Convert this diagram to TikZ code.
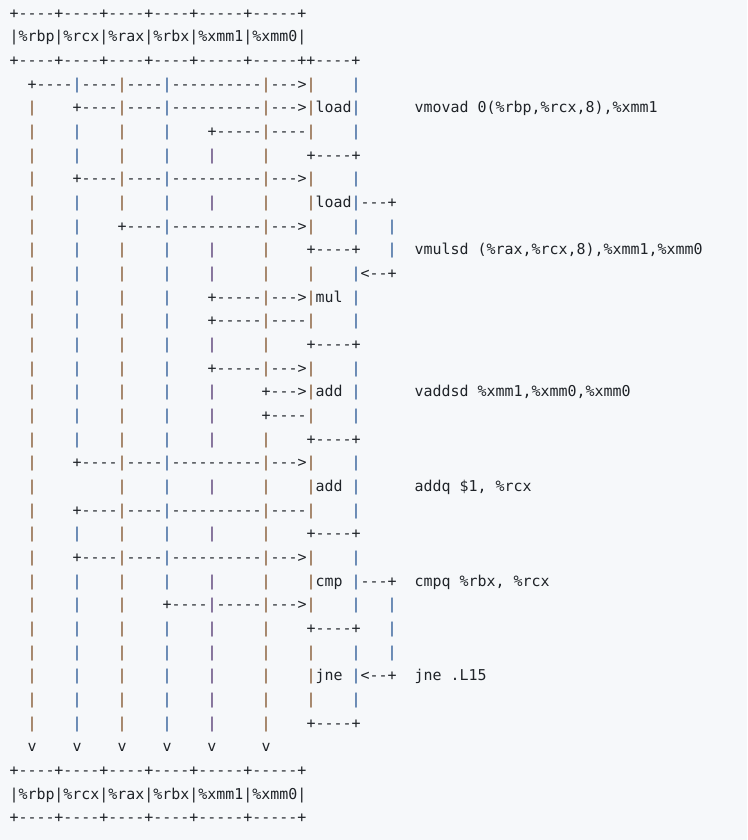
\documentclass[tikz,border=0pt]{standalone}
\usepackage{fontspec}
\setmonofont{DejaVu Sans Mono}
\usepackage{xcolor}
\definecolor{bgc}{HTML}{F6F8FA}
\definecolor{txc}{HTML}{1F2328}
\definecolor{barO}{HTML}{7A4A20}
\definecolor{barB}{HTML}{1F5090}
\definecolor{barP}{HTML}{4A2D6A}
\newcommand\vO{\textcolor{barO}{|}}
\newcommand\vB{\textcolor{barB}{|}}
\newcommand\vP{\textcolor{barP}{|}}
\newcommand\asciirow[2]{\node[rowtxt] (r#1) at (9.5,{18.3+23.66*(#1-1)}) {#2};}
\tikzset{rowtxt/.style={anchor=base west,inner sep=0pt,outer sep=0pt,text=txc,font=\ttfamily\fontsize{14.95}{18}\selectfont}}
\begin{document}
\begin{tikzpicture}[x=1pt,y=-1pt]
\fill[bgc] (0,0) rectangle (747,840);
\useasboundingbox (0,0) rectangle (747,840);
\asciirow{1}{+----+----+----+----+-----+-----+}
\asciirow{2}{|\%rbp|\%rcx|\%rax|\%rbx|\%xmm1|\%xmm0|}
\asciirow{3}{+----+----+----+----+-----+-----++----+}
\asciirow{4}{~~+----\vB----\vO----\vB----------\vO--->\vO~~~~\vB}
\asciirow{5}{~~\vO~~~~+----\vO----\vB----------\vO--->\vO{}load\vB~~~~~~vmovad~0(\%rbp,\%rcx,8),\%xmm1}
\asciirow{6}{~~\vO~~~~\vB~~~~\vO~~~~\vB~~~~+-----\vO----\vO~~~~\vB}
\asciirow{7}{~~\vO~~~~\vB~~~~\vO~~~~\vB~~~~\vP~~~~~\vO~~~~+----+}
\asciirow{8}{~~\vO~~~~+----\vO----\vB----------\vO--->\vO~~~~\vB}
\asciirow{9}{~~\vO~~~~\vB~~~~\vO~~~~\vB~~~~\vP~~~~~\vO~~~~\vO{}load\vB---+}
\asciirow{10}{~~\vO~~~~\vB~~~~+----\vB----------\vO--->\vO~~~~\vB~~~\vB}
\asciirow{11}{~~\vO~~~~\vB~~~~\vO~~~~\vB~~~~\vP~~~~~\vO~~~~+----+~~~\vB~~vmulsd~(\%rax,\%rcx,8),\%xmm1,\%xmm0}
\asciirow{12}{~~\vO~~~~\vB~~~~\vO~~~~\vB~~~~\vP~~~~~\vO~~~~\vO~~~~\vB<--+}
\asciirow{13}{~~\vO~~~~\vB~~~~\vO~~~~\vB~~~~+-----\vO--->\vO{}mul~\vB}
\asciirow{14}{~~\vO~~~~\vB~~~~\vO~~~~\vB~~~~+-----\vO----\vO~~~~\vB}
\asciirow{15}{~~\vO~~~~\vB~~~~\vO~~~~\vB~~~~\vP~~~~~\vO~~~~+----+}
\asciirow{16}{~~\vO~~~~\vB~~~~\vO~~~~\vB~~~~+-----\vO--->\vO~~~~\vB}
\asciirow{17}{~~\vO~~~~\vB~~~~\vO~~~~\vB~~~~\vP~~~~~+--->\vO{}add~\vB~~~~~~vaddsd~\%xmm1,\%xmm0,\%xmm0}
\asciirow{18}{~~\vO~~~~\vB~~~~\vO~~~~\vB~~~~\vP~~~~~+----\vO~~~~\vB}
\asciirow{19}{~~\vO~~~~\vB~~~~\vO~~~~\vB~~~~\vP~~~~~\vO~~~~+----+}
\asciirow{20}{~~\vO~~~~+----\vO----\vB----------\vO--->\vO~~~~\vB}
\asciirow{21}{~~\vO~~~~~~~~~\vO~~~~\vB~~~~\vP~~~~~\vO~~~~\vO{}add~\vB~~~~~~addq~\$1,~\%rcx}
\asciirow{22}{~~\vO~~~~+----\vO----\vB----------\vO----\vO~~~~\vB}
\asciirow{23}{~~\vO~~~~\vB~~~~\vO~~~~\vB~~~~\vP~~~~~\vO~~~~+----+}
\asciirow{24}{~~\vO~~~~+----\vO----\vB----------\vO--->\vO~~~~\vB}
\asciirow{25}{~~\vO~~~~\vB~~~~\vO~~~~\vB~~~~\vP~~~~~\vO~~~~\vO{}cmp~\vB---+~~cmpq~\%rbx,~\%rcx}
\asciirow{26}{~~\vO~~~~\vB~~~~\vO~~~~+----\vP-----\vO--->\vO~~~~\vB~~~\vB}
\asciirow{27}{~~\vO~~~~\vB~~~~\vO~~~~\vB~~~~\vP~~~~~\vO~~~~+----+~~~\vB}
\asciirow{28}{~~\vO~~~~\vB~~~~\vO~~~~\vB~~~~\vP~~~~~\vO~~~~\vO~~~~\vB~~~\vB}
\asciirow{29}{~~\vO~~~~\vB~~~~\vO~~~~\vB~~~~\vP~~~~~\vO~~~~\vO{}jne~\vB<--+~~jne~.L15}
\asciirow{30}{~~\vO~~~~\vB~~~~\vO~~~~\vB~~~~\vP~~~~~\vO~~~~\vO~~~~\vB}
\asciirow{31}{~~\vO~~~~\vB~~~~\vO~~~~\vB~~~~\vP~~~~~\vO~~~~+----+}
\asciirow{32}{~~v~~~~v~~~~v~~~~v~~~~v~~~~~v}
\asciirow{33}{+----+----+----+----+-----+-----+}
\asciirow{34}{|\%rbp|\%rcx|\%rax|\%rbx|\%xmm1|\%xmm0|}
\asciirow{35}{+----+----+----+----+-----+-----+}
\end{tikzpicture}
\end{document}
